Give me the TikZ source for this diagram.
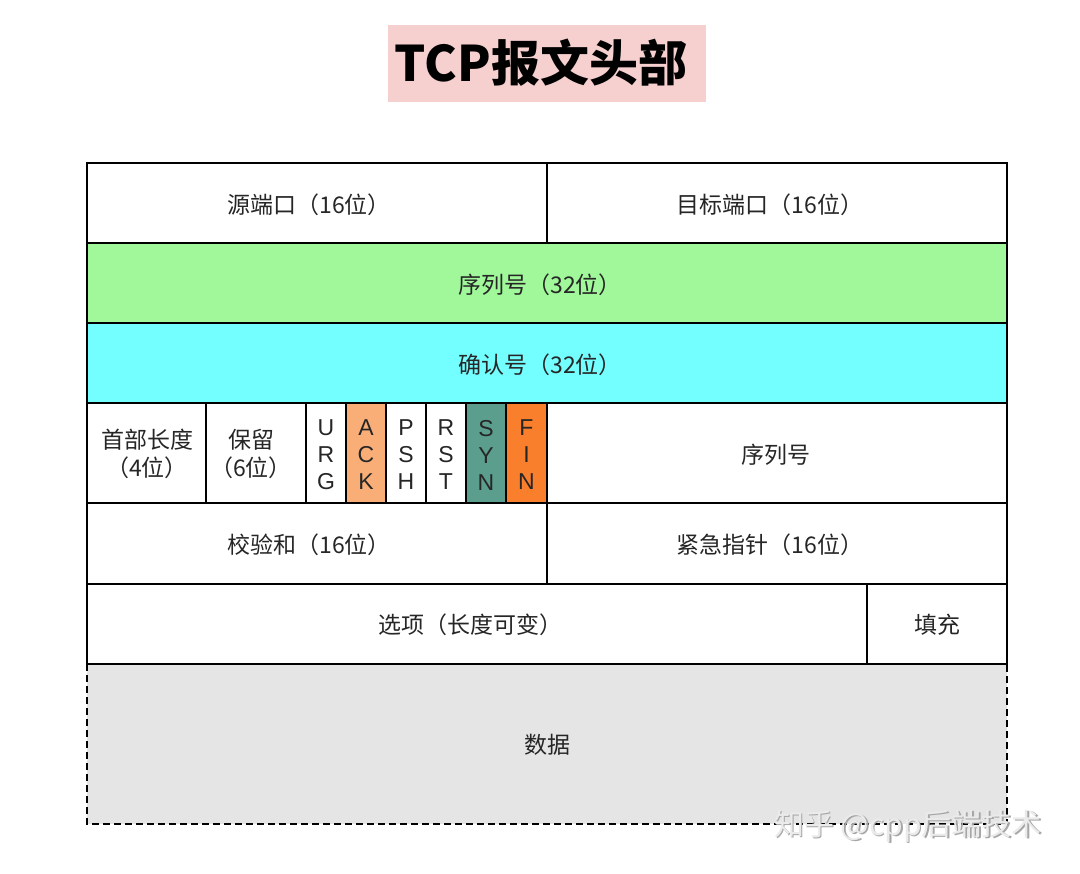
\documentclass[tikz,border=0pt]{standalone}
\usepackage{fontspec}
\setmainfont{Noto Sans CJK SC}
\newfontfamily\latinsans{Liberation Sans}
\usetikzlibrary{positioning}
\definecolor{titlepink}{HTML}{F6CFCF}
\definecolor{seqgreen}{HTML}{A0F89A}
\definecolor{ackcyan}{HTML}{73FEFF}
\definecolor{acklight}{HTML}{F9AE78}
\definecolor{synteal}{HTML}{5B9E8E}
\definecolor{finorange}{HTML}{F97F2D}
\definecolor{datagray}{HTML}{E5E5E5}
\tikzset{
  grid line/.style={draw=black, line width=1.6pt},
  lbl/.style={font=\fontsize{23}{28}\selectfont, align=center, text=black!85},
  flag/.style={font=\latinsans\fontsize{23}{27}\selectfont, align=center, text=black!85},
}
\begin{document}
\begin{tikzpicture}[x=1pt,y=-1pt]
\useasboundingbox (0,0) rectangle (1080,874);
\fill[white] (0,0) rectangle (1080,874);
% title
\fill[titlepink] (388,25) rectangle (706,102);
\node[font=\fontsize{49}{52}\selectfont\bfseries] (title) at (541,63) {TCP报文头部};
% data
\fill[datagray] (87,664) rectangle (1007,824);
\draw[grid line, dashed, dash pattern=on 7pt off 4pt] (87,664) rectangle (1007,824);
\node[lbl] (data) at (547,745) {数据};
% colored rows
\fill[seqgreen] (87,243) rectangle (1007,323);
\fill[ackcyan] (87,323) rectangle (1007,403);
\fill[acklight] (346,403) rectangle (386,503);
\fill[synteal] (466,403) rectangle (506,503);
\fill[finorange] (506,403) rectangle (547,503);
% grid lines
\draw[grid line] (87,163) rectangle (1007,664);
\foreach \y in {243,323,403,503,584} \draw[grid line] (87,\y) -- (1007,\y);
\draw[grid line] (547,163) -- (547,243);
\draw[grid line] (547,403) -- (547,584);
\foreach \x in {206,306,346,386,426,466,506} \draw[grid line] (\x,403) -- (\x,503);
\draw[grid line] (867,584) -- (867,664);
% labels
\node[lbl] (src) at (309,205) {源端口（16位）};
\node[lbl] (dst) at (770,205) {目标端口（16位）};
\node[lbl] (seq) at (540,285) {序列号（32位）};
\node[lbl] (ackn) at (540,365) {确认号（32位）};
\node[lbl] (hlen) at (147,454) {首部长度\\（4位）};
\node[lbl] (rsv) at (251,454) {保留\\（6位）};
\foreach \n/\x/\t in {urg/326/U\\R\\G, ack/366/A\\C\\K, psh/406/P\\S\\H, rst/446/R\\S\\T, syn/486/S\\Y\\N, fin/526.5/F\\I\\N}
  \node[flag] (\n) at (\x,455) {\t};
\node[lbl] (win) at (776,455) {序列号};
\node[lbl] (chk) at (309,545) {校验和（16位）};
\node[lbl] (urgp) at (770,545) {紧急指针（16位）};
\node[lbl] (opt) at (470,625) {选项（长度可变）};
\node[lbl] (pad) at (937,625) {填充};
% watermark
\node[font=\fontsize{30}{33}\selectfont, text=gray!70] at (909.5,827.5) {知乎 @cpp后端技术};
\node[font=\fontsize{30}{33}\selectfont, text=white!92!black] (wmk) at (908,826) {知乎 @cpp后端技术};
\end{tikzpicture}
\end{document}
